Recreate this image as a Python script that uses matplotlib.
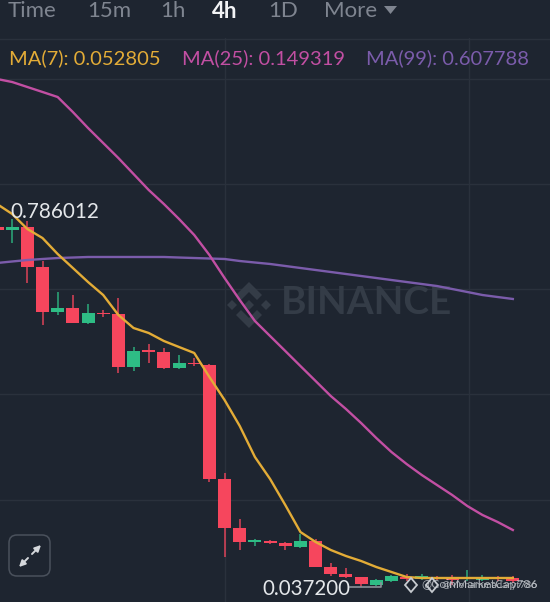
import matplotlib
matplotlib.use("Agg")
import matplotlib.pyplot as plt
from matplotlib.patches import Rectangle, Polygon, FancyBboxPatch
from matplotlib.transforms import Affine2D

opens = [.7738,.7676,.7738,.6919,.5998,.6080,.5773,.5978,.5958,.4873,.5221,.5180,.4853,.4955,.4914,.2582,.1579,.1293,.1313,.1272,.1191,.1313,.0781,.0638,.0576,.0413,.0495,.0576,.0535,.0576,.0576,.0535,.0515,.0556,.0556]
highs = [.7738,.7901,.7861,.7042,.6408,.6346,.6162,.6039,.6285,.5282,.5344,.5262,.5119,.5057,.4935,.2704,.1763,.1354,.1334,.1293,.1456,.1354,.0863,.0760,.0576,.0535,.0617,.0638,.0638,.0597,.0617,.0720,.0617,.0597,.0597]
lows  = [.7676,.7410,.6592,.5733,.5937,.5773,.5753,.5896,.4750,.4791,.4955,.4832,.4832,.4893,.2520,.0986,.1129,.1211,.1252,.1129,.1170,.0781,.0597,.0556,.0372,.0392,.0474,.0495,.0515,.0515,.0413,.0495,.0495,.0495,.0454]
closes= [.7676,.7738,.6919,.5998,.6080,.5773,.5978,.5958,.4873,.5201,.5180,.4853,.4955,.4935,.2582,.1579,.1293,.1334,.1272,.1211,.1313,.0781,.0638,.0576,.0433,.0515,.0597,.0535,.0597,.0535,.0515,.0576,.0576,.0535,.0495]
ma7  = [.8208,.8004,.7697,.7512,.7185,.6899,.6612,.6346,.5937,.5671,.5569,.5405,.5282,.5160,.4669,.4198,.3666,.3032,.2582,.2050,.1497,.1293,.1129,.1006,.0904,.0781,.0679,.0576,.0556,.0556,.0556,.0556,.0556,.0556,.0556]
ma25 = [1.0766,1.0704,1.0602,1.0500,1.0397,1.0090,.9763,.9456,.9149,.8822,.8495,.8208,.7901,.7574,.7165,.6694,.6244,.5814,.5507,.5201,.4893,.4587,.4280,.4014,.3727,.3420,.3134,.2888,.2663,.2459,.2255,.2029,.1845,.1702,.1538]
ma99 = [.7001,.7032,.7062,.7083,.7103,.7113,.7124,.7124,.7124,.7124,.7124,.7124,.7113,.7103,.7093,.7083,.7042,.7011,.6981,.6940,.6899,.6858,.6817,.6776,.6735,.6694,.6653,.6612,.6571,.6530,.6469,.6408,.6346,.6305,.6265]
price_grid = [1.0766,.8617,.6469,.4321,.2152]
time_grid = [15, 31.1]
tabs = ["Time", "15m", "1h", "4h", "1D", "More"]
legend_labels = ["MA(7): 0.052805", "MA(25): 0.149319", "MA(99): 0.607788"]
high_label = "0.786012"
low_label = "0.037200"
high_index, low_index = 2, 24

BG = "#1e2530"; GRID = "#2a313c"; UP = "#2ebd85"; DOWN = "#f6465d"
C7 = "#e3ac37"; C25 = "#c24fa3"; C99 = "#7b5cab"

plt.rcParams["font.family"] = ["Lato", "DejaVu Sans"]
fig = plt.figure(figsize=(5.5, 6.02), dpi=100, facecolor=BG)
ax = fig.add_axes([0, 0, 1, 1], facecolor=BG)
ax.set_xlim(0.198, 36.45)
ax.set_ylim(0.0065, 1.2382)
ax.axis("off")
for p in price_grid:
    ax.axhline(p, color=GRID, lw=1, zorder=1)
for t in time_grid:
    ax.axvline(t, color=GRID, lw=1, zorder=1)

# pixel coordinate transform for screen furniture
px = Affine2D().scale(1 / 550, -1 / 602).translate(0, 1) + fig.transFigure

# watermark logo and word
lc = "#343c47"
cx, cy = 249, 305
for dx, dy, r in [(-17, 0, 5), (17, 0, 5), (0, 0, 5)]:
    ax.add_patch(Polygon([(cx+dx, cy+dy-r), (cx+dx+r, cy+dy), (cx+dx, cy+dy+r), (cx+dx-r, cy+dy)],
                         closed=True, fc=lc, ec="none", transform=px, zorder=1.5))
ax.add_patch(Polygon([(cx, cy-23), (cx+13, cy-10), (cx+8, cy-5), (cx, cy-13), (cx-8, cy-5), (cx-13, cy-10)],
                     closed=True, fc=lc, ec="none", transform=px, zorder=1.5))
ax.add_patch(Polygon([(cx, cy+23), (cx+13, cy+10), (cx+8, cy+5), (cx, cy+13), (cx-8, cy+5), (cx-13, cy+10)],
                     closed=True, fc=lc, ec="none", transform=px, zorder=1.5))
ax.text(281, 303, "BINANCE", color=lc, fontsize=27.8, fontweight="bold", va="center", ha="left",
        transform=px, zorder=1.5)

# candles
w = 0.86
for i, (o, h, l, c) in enumerate(zip(opens, highs, lows, closes)):
    col = UP if c >= o else DOWN
    ax.plot([i, i], [l, h], color=col, lw=1.3, alpha=0.75, zorder=2, solid_capstyle="butt")
    bot, top = min(o, c), max(o, c)
    ax.add_patch(Rectangle((i - w / 2, bot), w, max(top - bot, 0.003), fc=col, ec="none", zorder=3))

x = list(range(len(ma7)))
ax.plot(x, ma99, color=C99, lw=1.7, zorder=4)
ax.plot(x, ma25, color=C25, lw=1.7, zorder=4)
ax.plot(x, ma7, color=C7, lw=1.7, zorder=5)

# extreme labels
ax.annotate(high_label, xy=(high_index, highs[high_index]), xytext=(10, 212), textcoords=px,
            color="#e4e7ea", fontsize=14.9, va="center", ha="left", zorder=6)
ax.plot([350, 381, 381], [587, 587, 583], color="#8b9098", lw=1.2, transform=px, zorder=3)
ax.annotate(low_label, xy=(low_index, lows[low_index]), xytext=(262, 589), textcoords=px,
            color="#e4e7ea", fontsize=14.8, va="center", ha="left", zorder=6)

# header
ax.add_patch(Rectangle((0, 0), 550, 38, fc=BG, ec="none", transform=px, zorder=7))
ax.plot([0, 550], [39, 39], color=GRID, lw=1, transform=px, zorder=8)
for t, xp in zip(tabs, [8, 87, 160, 212, 268, 324]):
    on = t == "4h"
    ax.text(xp, 11, t, color="#f2f3f5" if on else "#7f8590", fontsize=16,
            fontweight="bold" if on else "normal", va="center", ha="left", transform=px, zorder=9)
ax.add_patch(Polygon([(384, 6), (397, 6), (390.5, 14)], closed=True, fc="#7f8590", ec="none", transform=px, zorder=9))
for t, xp, col in zip(legend_labels, [9, 182, 366], [C7, C25, C99]):
    ax.text(xp, 58, t, color=col, fontsize=14.5, va="center", ha="left", transform=px, zorder=9)

# expand button
ax.add_patch(FancyBboxPatch((9, 535), 41, 41, boxstyle="round,pad=0,rounding_size=8", fc=BG, ec="#4a515c",
                            lw=1.1, transform=px, zorder=6))
for tip, tail in [((19, 567), (28, 558)), ((41, 545), (32, 554))]:
    ax.annotate("", xy=tip, xytext=tail, xycoords=px, textcoords=px, zorder=7,
                arrowprops=dict(arrowstyle="-|>", color="#d5d8dc", lw=1.4, mutation_scale=9, shrinkA=0, shrinkB=0))

# bottom-right overlapping attribution
wm = "#c7cbd0"
for xp in [411, 432]:
    ax.add_patch(Polygon([(xp, 578), (xp + 6, 585), (xp, 592), (xp - 6, 585)], closed=True,
                         fc="none", ec=wm, lw=1.3, transform=px, zorder=9))
ax.text(421, 585, "@CoinMarketCap786", color=wm, fontsize=8.8, alpha=0.8, va="center", ha="left", transform=px, zorder=9)
ax.text(442, 585, "@Mohammadaryf786", color=wm, fontsize=7.2, alpha=0.8, va="center", ha="left", transform=px, zorder=9)

fig.savefig("out.png", dpi=100, facecolor=BG)
